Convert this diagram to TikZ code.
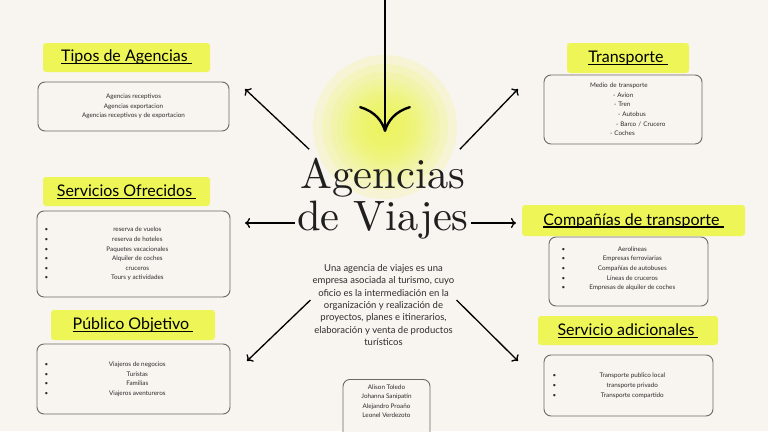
\documentclass[tikz,border=0pt]{standalone}
\usepackage{fontspec}
\setsansfont{Lato}
\newfontfamily\titlefont{lmroman10-regular}[Extension=.otf]
\usepackage{array}
\usetikzlibrary{arrows.meta}

\definecolor{paper}{RGB}{248,244,239}
\definecolor{hilite}{RGB}{237,246,86}
\definecolor{frame}{RGB}{105,105,105}
\definecolor{ink}{RGB}{45,45,45}

\newcommand{\hdul}[1]{\setbox0=\hbox{#1\hspace{4pt}}\rlap{\rule[-2.5pt]{\wd0}{1.1pt}}\box0}
\newcommand{\bullist}[2]{\begin{tabular}{@{}l@{\hspace{4pt}}>{\centering\arraybackslash}p{#1}@{}}#2\end{tabular}}

\begin{document}
\begin{tikzpicture}[x=1pt, y=-1pt,
    hd/.style={fill=hilite, rounded corners=3pt, minimum height=29pt, inner xsep=6pt,
        font=\sffamily\fontsize{16}{16}\selectfont, text=black},
    box/.style={draw=frame, line width=0.9pt, rounded corners=7pt, fill=paper, text=ink,
        font=\sffamily\fontsize{6.3}{9.6}\selectfont, align=center, inner sep=0pt},
    title/.style={font=\titlefont\fontsize{42.5}{42}\selectfont, align=center, text=black!88, inner sep=2pt},
    desc/.style={font=\sffamily\fontsize{9.5}{12.3}\selectfont, align=center, text=ink, inner sep=2pt},
    arr/.style={line width=1.3pt, -{To[length=5pt, width=10pt]}},
    bigarr/.style={line width=2.4pt, -{To[length=26pt, width=52pt]}}]

    \useasboundingbox (0,0) rectangle (768,431);
    \fill[paper] (0,0) rectangle (768,431);
    \clip (0,0) rectangle (768,431);

    \coordinate (glow) at (385,127);
    \foreach \r in {10,15,20,25,29,33,37,42,48,55,63,72}
        \fill[hilite, opacity=0.17] (glow) circle (\r pt);
    \coordinate (top) at (385,-3);
    \draw[bigarr] (top) -- ([yshift=-5pt]glow);

    \node[title] (title) at (383,199) {Agencias\\de Viajes};
    \node[desc] (desc) at (383.5,305) {Una agencia de viajes es una\\empresa asociada al turismo, cuyo\\oficio es la intermediación en la\\organización y realización de\\proyectos, planes e itinerarios,\\elaboración y venta de productos\\turísticos};

    \node[box, minimum width=191pt, minimum height=49pt] (tipos) at (133.5,106.5)
        {Agencias receptivos\\Agencias exportacion\\Agencias receptivos y de exportacion};
    \node[hd, minimum width=167pt] (htipos) at (126.5,57.5) {\hdul{Tipos de Agencias}};

    \node[box, minimum width=193pt, minimum height=86pt] (servicios) at (133.5,254)
        {\bullist{170pt}{\textbullet & reserva de vuelos\\ \textbullet & reserva de hoteles\\ \textbullet & Paquetes vacacionales\\ \textbullet & Alquiler de coches\\ \textbullet & cruceros\\ \textbullet & Tours y actividades}};
    \node[hd, minimum width=167pt] (hservicios) at (126.5,191.5) {\hdul{Servicios Ofrecidos}};

    \node[box, minimum width=193pt, minimum height=70pt] (publico) at (133.5,379)
        {\bullist{170pt}{\textbullet & Viajeros de negocios\\ \textbullet & Turistas\\ \textbullet & Familias\\ \textbullet & Viajeros aventureros}};
    \node[hd, minimum width=164pt, minimum height=30pt] (hpublico) at (133,325) {\hdul{Público Objetivo}};

    \node[box, minimum height=69pt, text width=150pt, inner xsep=4pt, align=left] (transporte) at (623,109.5)
        {\hspace*{42pt}Medio de transporte\\\hspace*{65pt}- Avion\\\hspace*{66pt}- Tren\\\hspace*{70pt}- Autobus\\\hspace*{68pt}- Barco / Crucero\\\hspace*{62pt}- Coches};
    \node[hd, minimum width=122pt, minimum height=30pt] (htransporte) at (628,58) {\hdul{Transporte}};

    \node[box, minimum width=159pt, minimum height=69pt] (companias) at (628.5,271.5)
        {\bullist{126pt}{\textbullet & Aerolíneas\\ \textbullet & Empresas ferroviarias\\ \textbullet & Compañías de autobuses\\ \textbullet & Líneas de cruceros\\ \textbullet & Empresas de alquiler de coches}\\[5pt]};
    \node[hd, minimum width=223pt, minimum height=31pt] (hcompanias) at (633.5,220.5) {\hdul{Compañías de transporte}};

    \node[box, minimum width=169pt, minimum height=61pt] (adicionales) at (628.5,385.5)
        {\bullist{144pt}{\textbullet & Transporte publico local\\ \textbullet & transporte privado\\ \textbullet & Transporte compartido}};
    \node[hd, minimum width=180pt] (hadicionales) at (628,330.5) {\hdul{Servicio adicionales}};

    \node[box, minimum width=87pt, anchor=north, inner ysep=5pt, text depth=40pt] (autores) at (386.5,379)
        {Alison Toledo\\Johanna Sanipatín\\Alejandro Proaño\\Leonel Verdezoto};

    \coordinate (ul) at (245,89);
    \coordinate (ur) at (518,89);
    \coordinate (ml) at (245,223);
    \coordinate (mr) at (516,223);
    \coordinate (ll) at (247,361);
    \coordinate (lr) at (518,361);

    \draw[arr] ([xshift=14pt, yshift=7pt]title.north west) -- (ul);
    \draw[arr] ([xshift=-11pt, yshift=7pt]title.north east) -- (ur);
    \draw[arr] (title.west |- ml) -- (ml);
    \draw[arr] (title.east |- mr) -- (mr);
    \draw[arr] ([yshift=5pt]desc.west) -- (ll);
    \draw[arr] ([yshift=5pt]desc.east) -- (lr);
\end{tikzpicture}
\end{document}
